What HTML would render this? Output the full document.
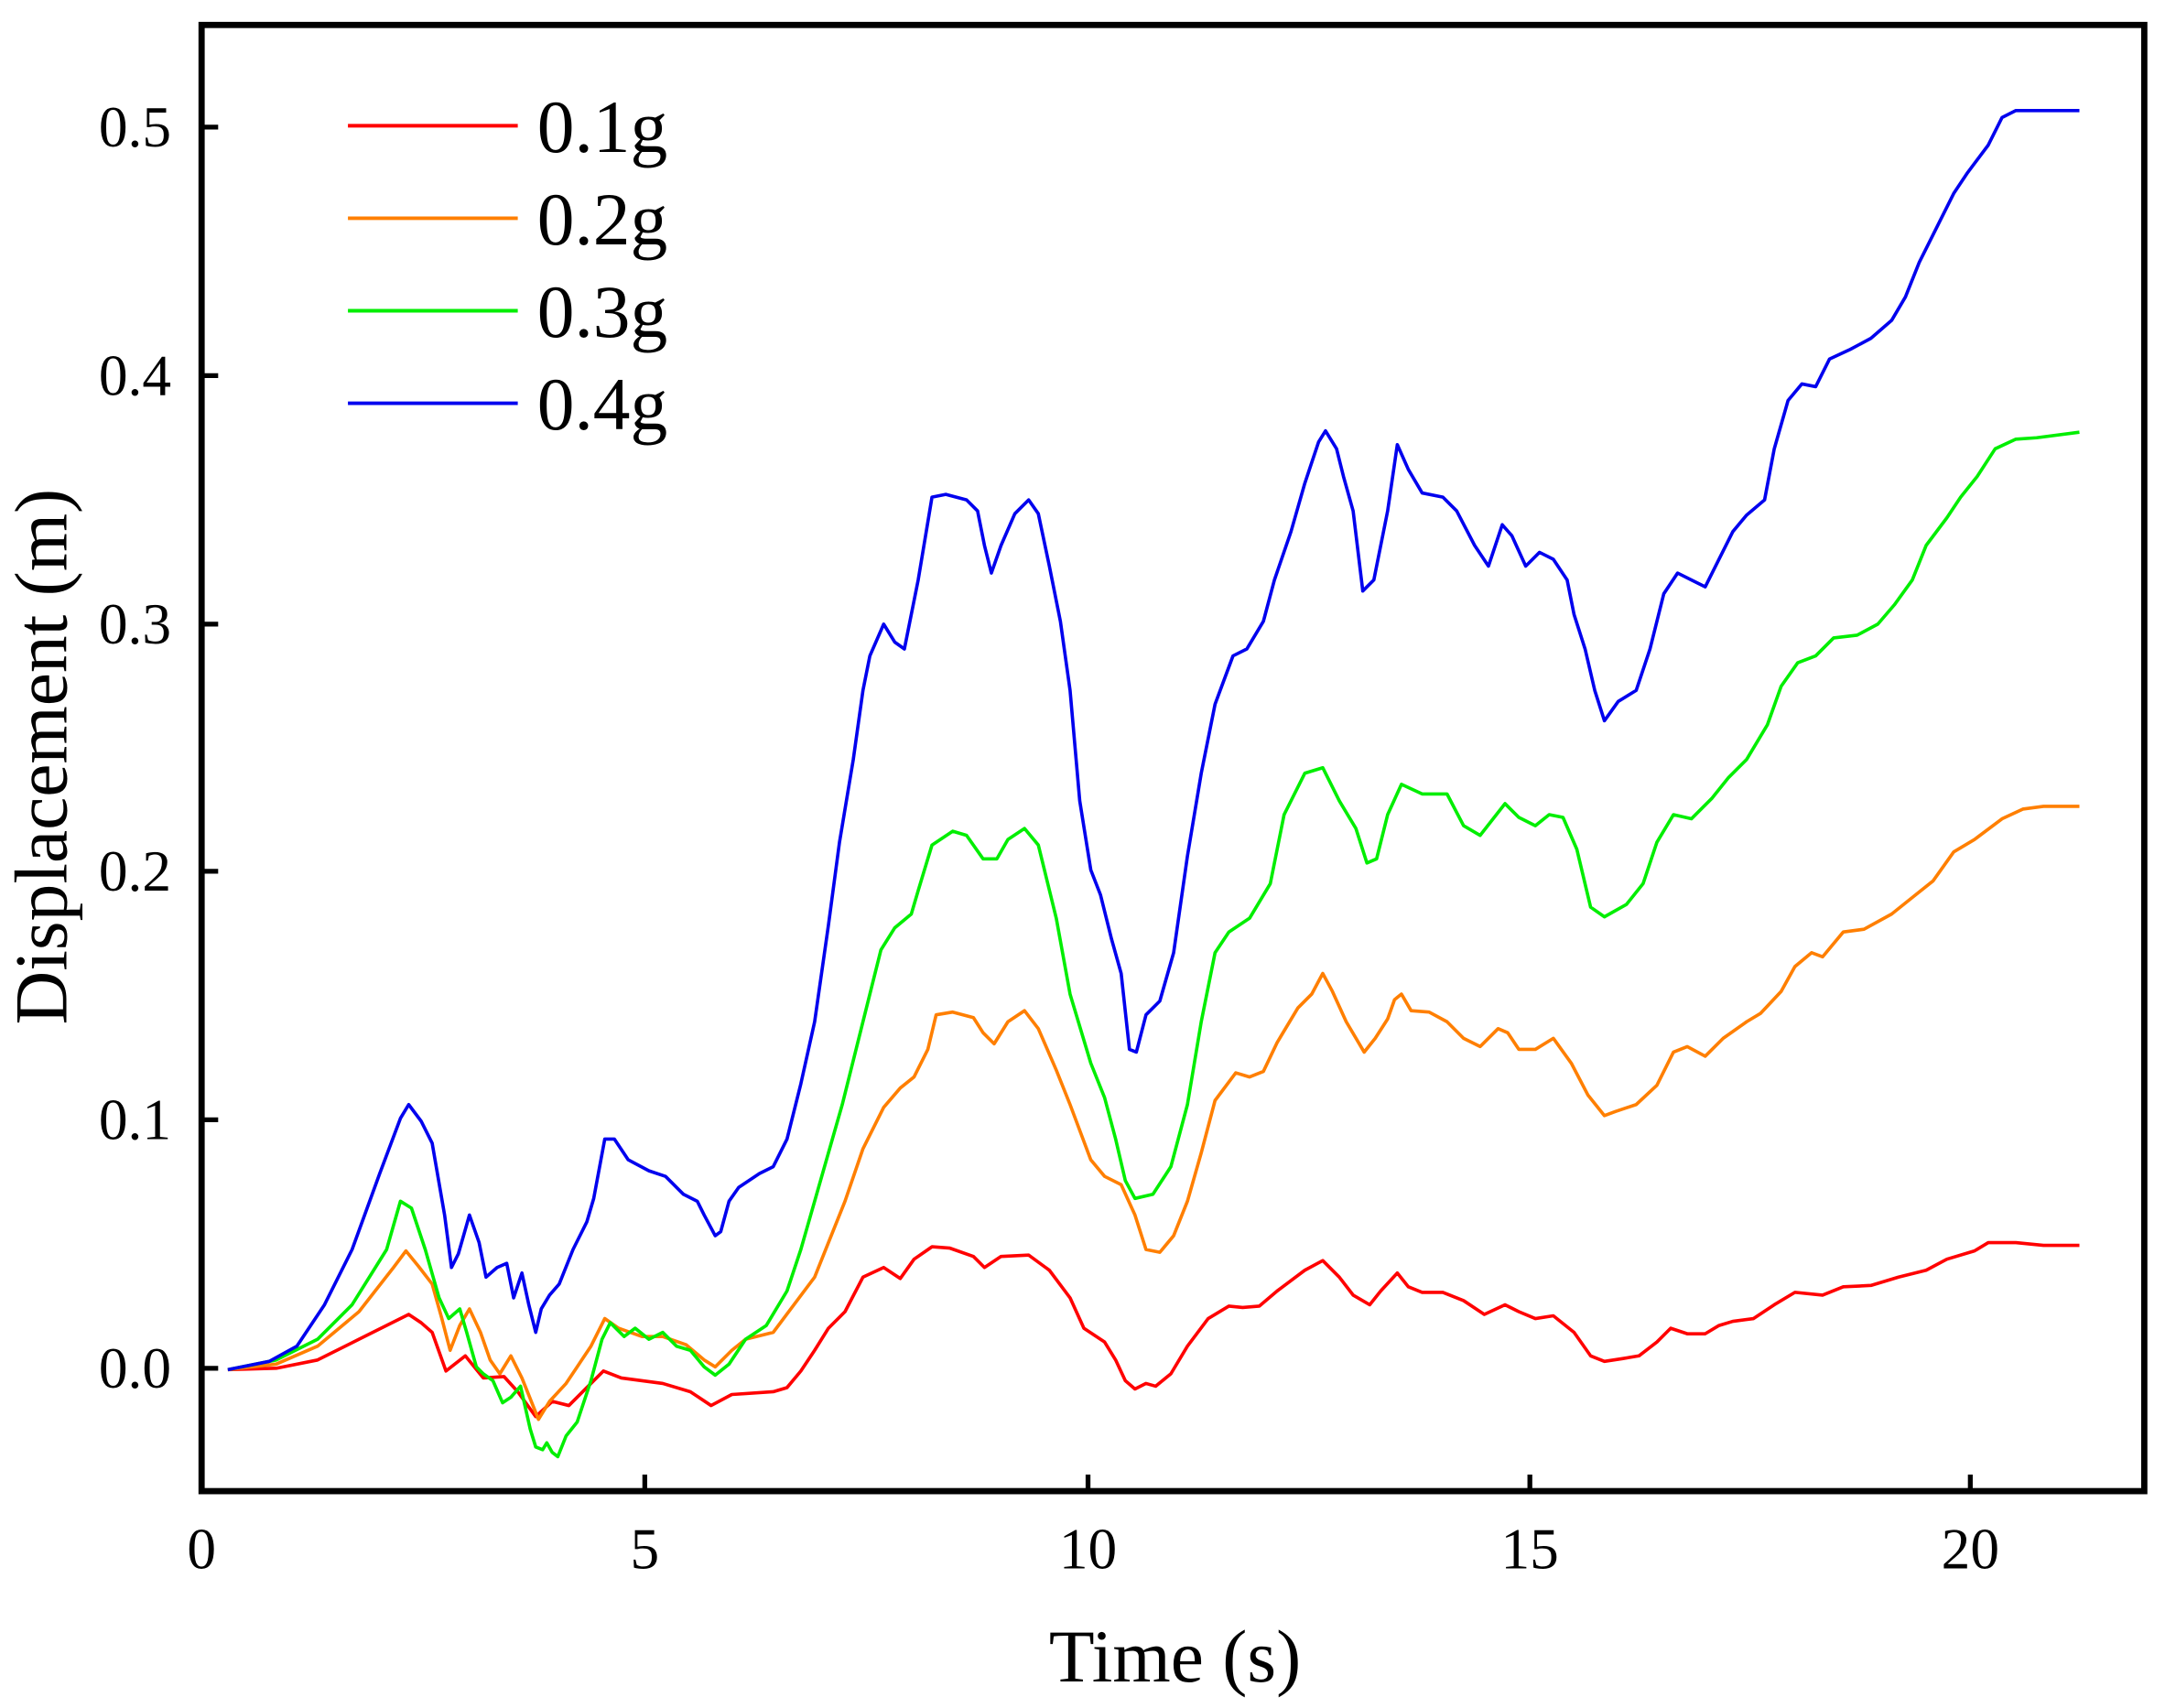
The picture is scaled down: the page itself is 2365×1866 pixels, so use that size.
<!DOCTYPE html>
<html><head><meta charset="utf-8"><style>
html,body{margin:0;padding:0;background:#fff;}
svg{display:block;}
text{font-family:"Liberation Serif",serif;fill:#000;}
</style></head><body>
<svg width="2365" height="1866" viewBox="0 0 1568 1237" xmlns="http://www.w3.org/2000/svg">
<rect width="1568" height="1237" fill="#fff"/>
<g fill="none" stroke-width="2.4" stroke-linejoin="round">
<polyline stroke="#ff0000" points="165,992 200,991 230,985 260,970 296,952 305,958 313,965 323,993 337,982 350,998 365,997 375,1008 388,1026 400,1015 412,1018 425,1005 437,993 450,998 480,1002 500,1008 515,1018 530,1010 560,1008 570,1005 580,993 590,978 600,962 612,950 625,925 640,918 652,926 662,912 675,903 688,904 705,910 713,918 725,910 745,909 760,920 775,940 785,962 800,972 808,985 815,1000 822,1006 830,1002 837,1004 848,995 860,975 875,955 890,946 900,947 912,946 925,935 945,920 958,913 970,925 980,938 992,945 1000,935 1012,922 1020,932 1030,936 1045,936 1060,942 1075,952 1090,945 1100,950 1112,955 1125,953 1140,965 1152,982 1162,986 1175,984 1187,982 1200,972 1210,962 1222,966 1235,966 1245,960 1255,957 1270,955 1285,945 1300,936 1320,938 1335,932 1355,931 1375,925 1395,920 1410,912 1430,906 1440,900 1460,900 1480,902 1506,902"/>
<polyline stroke="#ff7f00" points="165,992 200,988 230,975 260,950 285,918 294,906 303,917 313,930 320,955 326,978 333,960 340,948 348,965 355,985 362,995 370,982 378,998 390,1028 398,1015 410,1002 418,990 428,975 438,955 448,962 465,968 480,968 497,974 510,985 518,990 530,978 540,970 560,965 575,945 590,925 600,900 612,870 625,832 640,802 652,788 662,780 672,760 678,735 690,733 705,737 712,748 720,756 730,740 742,732 752,745 765,775 775,800 790,840 800,852 812,858 822,880 830,905 840,907 850,895 860,870 870,835 880,797 895,777 905,780 915,776 925,755 940,730 950,720 958,705 965,718 975,740 988,762 996,752 1005,738 1010,724 1015,720 1022,732 1035,733 1048,740 1060,752 1072,758 1085,745 1092,748 1100,760 1112,760 1125,752 1138,770 1150,793 1162,808 1170,805 1185,800 1200,786 1212,762 1222,758 1235,765 1248,752 1265,740 1275,734 1290,718 1300,700 1312,690 1320,693 1335,675 1350,673 1370,662 1385,650 1400,638 1415,617 1430,608 1450,593 1465,586 1480,584 1506,584"/>
<polyline stroke="#00ee00" points="165,992 200,985 230,970 255,945 280,905 290,870 298,875 308,905 318,940 325,955 333,948 338,965 345,990 350,995 357,1000 364,1016 370,1012 377,1004 384,1035 388,1048 393,1050 396,1045 400,1052 404,1055 410,1040 418,1030 428,1000 436,970 442,958 452,968 460,962 470,970 480,965 490,975 500,978 510,990 518,996 528,988 540,970 555,960 570,935 580,905 590,870 600,835 610,800 620,760 630,720 638,688 648,672 660,662 665,645 675,612 690,602 700,605 712,622 722,622 730,608 742,600 752,612 765,665 775,720 790,770 800,795 808,825 815,855 822,868 835,865 848,845 860,800 870,740 880,690 890,675 905,665 920,640 930,590 945,560 958,556 970,580 982,600 990,625 997,622 1005,590 1015,568 1030,575 1048,575 1060,598 1072,605 1090,582 1100,592 1112,598 1122,590 1132,592 1142,615 1152,657 1162,664 1178,655 1190,640 1200,610 1212,590 1225,593 1240,578 1252,563 1265,550 1280,525 1290,497 1302,480 1315,475 1328,462 1345,460 1360,452 1372,438 1385,420 1395,395 1410,375 1420,360 1432,345 1445,325 1460,318 1475,317 1506,313"/>
<polyline stroke="#0000ee" points="165,992 195,986 215,975 235,945 255,905 275,850 290,810 296,800 305,812 313,828 322,880 327,918 332,908 340,880 347,900 352,925 360,918 367,915 372,940 378,922 383,945 388,965 392,948 398,938 405,930 415,905 425,885 430,868 438,825 445,825 455,840 470,848 482,852 495,865 505,870 510,880 518,895 522,892 528,870 535,860 550,850 560,845 570,825 580,785 590,740 600,670 608,610 618,550 625,500 630,475 640,452 648,465 655,470 665,420 675,360 685,358 700,362 708,370 713,395 718,415 725,395 735,372 745,362 752,372 760,410 768,450 775,500 782,580 790,630 797,648 805,680 812,705 818,760 823,762 830,735 840,725 850,690 860,620 870,560 880,510 893,475 903,470 915,450 923,420 935,385 945,350 955,320 960,312 968,325 973,345 980,370 987,428 995,420 1005,370 1012,322 1020,340 1030,357 1045,360 1055,370 1068,395 1078,410 1088,380 1095,388 1105,410 1115,400 1125,405 1135,420 1140,445 1148,470 1155,500 1162,522 1172,508 1185,500 1195,470 1205,430 1215,415 1225,420 1235,425 1245,405 1255,385 1265,373 1278,362 1285,325 1295,290 1305,278 1315,280 1325,260 1340,253 1355,245 1370,232 1380,215 1390,190 1405,160 1415,140 1425,125 1440,105 1450,85 1460,80 1475,80 1506,80"/>
</g>
<rect x="146" y="18" width="1407" height="1062" fill="none" stroke="#000" stroke-width="4.5"/>
<g stroke="#000" stroke-width="3.5">
<line x1="146" y1="991" x2="158" y2="991"/><line x1="146" y1="811" x2="158" y2="811"/>
<line x1="146" y1="631" x2="158" y2="631"/><line x1="146" y1="452" x2="158" y2="452"/>
<line x1="146" y1="272" x2="158" y2="272"/><line x1="146" y1="92" x2="158" y2="92"/>
<line x1="467" y1="1080" x2="467" y2="1068"/><line x1="788" y1="1080" x2="788" y2="1068"/>
<line x1="1108" y1="1080" x2="1108" y2="1068"/><line x1="1427" y1="1080" x2="1427" y2="1068"/>
</g>
<g font-size="42" text-anchor="end">
<text x="124" y="1005">0.0</text><text x="124" y="825">0.1</text><text x="124" y="645">0.2</text>
<text x="124" y="466">0.3</text><text x="124" y="286">0.4</text><text x="124" y="106">0.5</text>
</g>
<g font-size="42" text-anchor="middle">
<text x="146" y="1136">0</text><text x="467" y="1136">5</text><text x="788" y="1136">10</text>
<text x="1108" y="1136">15</text><text x="1427" y="1136">20</text>
</g>
<text x="851" y="1218" font-size="54" text-anchor="middle">Time (s)</text>
<text transform="translate(48,548) rotate(-90)" font-size="54" text-anchor="middle">Displacement (m)</text>
<g stroke-width="2.6">
<line x1="252" y1="91" x2="375" y2="91" stroke="#ff0000"/>
<line x1="252" y1="158" x2="375" y2="158" stroke="#ff7f00"/>
<line x1="252" y1="225" x2="375" y2="225" stroke="#00ee00"/>
<line x1="252" y1="292" x2="375" y2="292" stroke="#0000ee"/>
</g>
<g font-size="54">
<text x="389" y="110">0.1g</text><text x="389" y="177">0.2g</text>
<text x="389" y="244">0.3g</text><text x="389" y="311">0.4g</text>
</g>
</svg>
</body></html>
